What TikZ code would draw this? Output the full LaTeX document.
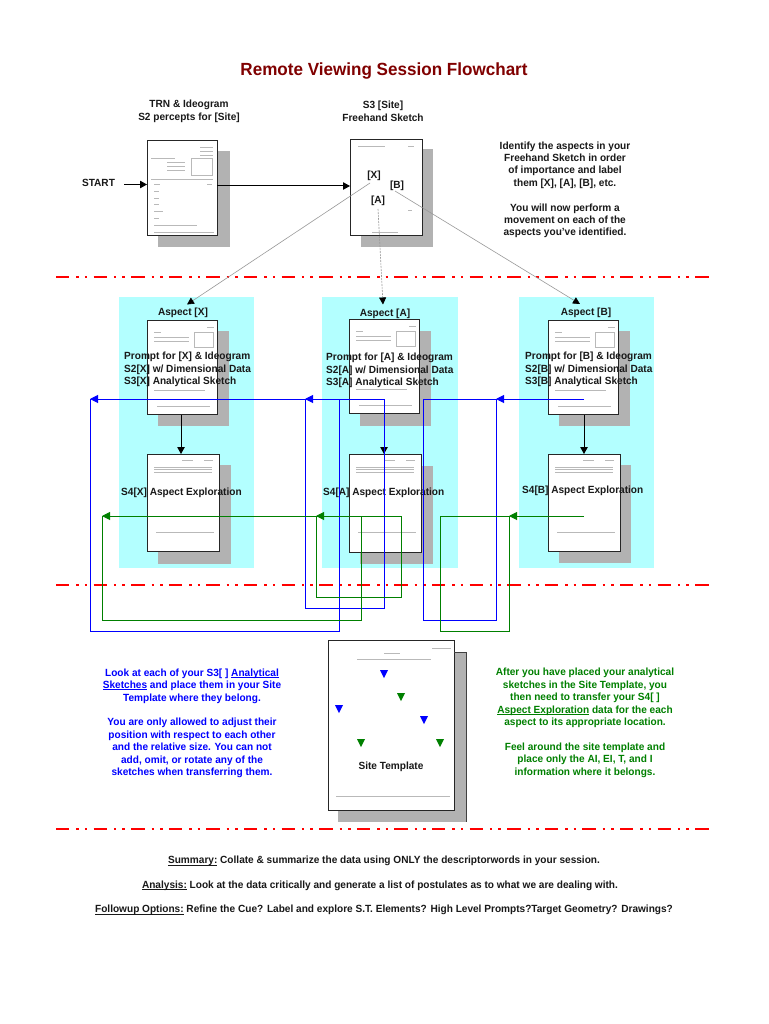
\documentclass[tikz,border=0pt]{standalone}
\usepackage{fontspec}
\setmainfont[FakeStretch=0.97]{Liberation Sans}
\usetikzlibrary{arrows.meta}
\definecolor{pageshadow}{RGB}{178,178,178}
\definecolor{panelcyan}{RGB}{179,255,255}
\definecolor{rvred}{RGB}{128,0,0}
\definecolor{rvgreen}{RGB}{0,128,0}
\definecolor{tinyink}{RGB}{185,185,185}
\tikzset{
  lbl/.style={font=\bfseries\fontsize{10.4}{12.6}\selectfont,text=black!90,inner sep=0pt,align=center,yshift=-1.8pt},
  lblL/.style={lbl,align=left,anchor=north west},
  tall/.style={font=\bfseries\fontsize{10.4}{12.4}\selectfont},
  panel/.style={fill=panelcyan,draw=none},
  shadowbox/.style={fill=pageshadow,draw=none},
  pagebox/.style={fill=white,draw=black!85,line width=1.3pt},
  flow/.style={draw=black,line width=1pt,-{Triangle[length=7pt,width=7.5pt]}},
  thin link/.style={draw=black!40,line width=.6pt,-{Triangle[length=7pt,width=7pt,color=black]}},
  blueloop/.style={draw=blue,line width=1pt},
  greenloop/.style={draw=rvgreen,line width=1pt},
  bluehead/.style={blueloop,-{Triangle[length=8pt,width=8pt]}},
  greenhead/.style={greenloop,-{Triangle[length=8pt,width=8pt]}},
  sepline/.style={draw=red,line width=1.6pt,dash pattern=on 13.3pt off 7pt on 2.5pt off 6pt on 2.5pt off 6.3pt},
  tinyline/.style={draw=tinyink,line width=.5pt},
  marker/.style={fill=#1,draw=none},
}
% page: #1 name, #2..#5 page x1,y1,x2,y2, #6..#9 shadow
\newcommand{\rvpage}[9]{%
  \fill[shadowbox] (#6,#7) rectangle (#8,#9);
  \node[pagebox,draw,inner sep=0pt,minimum width=#4pt-#2pt,minimum height=#5pt-#3pt,anchor=north west] (#1) at (#2,#3) {};
}
\newcommand{\blueTri}[2]{\fill[marker=blue] (#1-4,#2-4) -- (#1+4,#2-4) -- (#1,#2+4.2) -- cycle;}
\newcommand{\greenTri}[2]{\fill[marker=rvgreen] (#1-4,#2-4) -- (#1+4,#2-4) -- (#1,#2+4.2) -- cycle;}
\newcommand{\rvrules}[3]{\foreach \yy/\aa/\bb in {#3} {\draw[tinyline] (#1+\aa,#2+\yy) -- (#1+\bb,#2+\yy);}}
\newcommand{\rvul}[1]{\setbox0\hbox{#1}\rlap{\rule[-1.4pt]{\wd0}{.7pt}}\box0 }
\begin{document}
\begin{tikzpicture}[x=1pt,y=-1pt]
\useasboundingbox (0,0) rectangle (768,1024);
\fill[white] (0,0) rectangle (768,1024);

\node[font=\bfseries\fontsize{17.6}{20}\selectfont,text=rvred,inner sep=0pt] (title) at (384,71) {Remote Viewing Session Flowchart};

% panels
\fill[panel] (119,297) rectangle (254,568);
\fill[panel] (322,297) rectangle (458,568);
\fill[panel] (519,297) rectangle (654,568);

% pages
\rvpage{trn}{147}{140}{217}{235}{158}{151}{230}{247}
\rvpage{sk}{350}{139}{422}{235}{361}{149}{433}{247}
\rvpage{xa}{147}{320}{217}{414}{158}{331}{229}{426}
\rvpage{xb}{147}{454}{219}{551}{158}{465}{231}{564}
\rvpage{aa}{349}{319}{419}{413}{360}{331}{431}{426}
\rvpage{ab}{349}{454}{421}{552}{360}{466}{433}{564}
\rvpage{ba}{548}{320}{618}{414}{559}{331}{630}{426}
\rvpage{bb}{548}{454}{620}{551}{559}{465}{631}{563}
\rvpage{st}{328}{640}{454}{810}{338}{652}{466}{822}
\draw[black!75,line width=.8pt] (454,652) -- (466,652) -- (466,822);

% tiny print on the first page
\rvrules{147}{140}{7/53/66,11/53/66,15/53/66,18/4/28,22/20/38,26/20/38,30/20/38,39/4/66,44/7/13,44/60/65,51/7/12,58/7/12,64/7/12,71/7/16,78/7/12,85/7/50,92/7/67}
\draw[tinyline] (191,158) rectangle (212,175);
% tiny print on the sketch page
\rvrules{350}{139}{7/8/35,7/58/64,71/58/62,93/22/48}
% tiny print on the analysis pages
\foreach \px/\py in {147/320,349/319,548/320}{
  \rvrules{\px}{\py}{7/60/67,12/7/14,17/7/42,21/7/42,70/7/58,86/10/63}
  \draw[tinyline] (\px+47,\py+12) rectangle (\px+66,\py+27);
}
% tiny print on the exploration pages
\foreach \px/\py in {147/454,349/454,548/454}{
  \rvrules{\px}{\py}{6/35/46,6/57/66,13/7/65,15/7/65,18/7/65,78/9/67}
}
% tiny print on the site template
\rvrules{328}{640}{8/104/123,13/56/72,19/29/103,156/8/122}

% markers
\blueTri{384}{674}
\greenTri{401}{697}
\blueTri{339}{709}
\blueTri{424}{720}
\greenTri{361}{743}
\greenTri{440}{743}

% separators
\coordinate (s1a) at (56,277); \coordinate (s1b) at (710,277);
\coordinate (s2a) at (56,585); \coordinate (s2b) at (710,585);
\coordinate (s3a) at (56,829); \coordinate (s3b) at (710,829);
\draw[sepline] (s1a) -- (s1b);
\draw[sepline] (s2a) -- (s2b);
\draw[sepline] (s3a) -- (s3b);

% labels on the top row
\node[lbl] (l1) at (189,109.5) {TRN \& Ideogram\\S2 percepts for [Site]};
\node[lbl] (l2) at (383,109.5) {S3 [Site]\\Freehand Sketch};
\node[lbl] (start) at (98.5,181) {START};
\node[lbl] (mx) at (374,174) {[X]};
\node[lbl] (mb) at (397,184) {[B]};
\node[lbl] (ma) at (378,199.5) {[A]};
\node[lbl,tall] (identify) at (565,188) {Identify the aspects in your\\Freehand Sketch in order\\of importance and label\\them [X], [A], [B], etc.\\[12.4pt]You will now perform  a\\movement on each of the\\aspects you’ve identified.};

% aspect labels
\node[lbl] (hx) at (183,311) {Aspect [X]};
\node[lbl] (ha) at (385,312) {Aspect [A]};
\node[lbl] (hb) at (586,311) {Aspect [B]};
\node[lblL] (px) at (124,350) {Prompt for [X] \& Ideogram\\S2[X] w/ Dimensional Data\\S3[X] Analytical Sketch};
\node[lblL] (pa) at (326,351) {Prompt for [A] \& Ideogram\\S2[A] w/ Dimensional Data\\S3[A] Analytical Sketch};
\node[lblL] (pb) at (525,350) {Prompt for [B] \& Ideogram\\S2[B] w/ Dimensional Data\\S3[B] Analytical Sketch};
\node[lblL] (ex) at (121,485.5) {S4[X] Aspect Exploration};
\node[lblL] (ea) at (323,485.5) {S4[A] Aspect Exploration};
\node[lblL] (eb) at (522,483.5) {S4[B] Aspect Exploration};

% black connectors
\coordinate (startend) at (124,184.5);
\coordinate (trnin) at (147,184.5);
\coordinate (skin) at (350,186);
\coordinate (trnout) at (217,186);
\draw[flow] (startend) -- (trnin);
\draw[flow] (trnout) -- (skin);
\draw[flow] (xa.south -| 181,0) -- (xb.north -| 181,0);
\draw[flow] (aa.south -| 384,0) -- (ab.north -| 384,0);
\draw[flow] (ba.south -| 584,0) -- (bb.north -| 584,0);

% thin links
\coordinate (tx) at (370,183); \coordinate (ta) at (378,209); \coordinate (tb) at (395,191);
\coordinate (hxin) at (187,304.5); \coordinate (hain) at (383,304.5); \coordinate (hbin) at (580,304);
\draw[thin link] (tx) -- (hxin);
\draw[thin link,dash pattern=on 2pt off 1pt] (ta) -- (hain);
\draw[thin link] (tb) -- (hbin);

% blue loops
\coordinate (bxr) at (339,399); \coordinate (bxl) at (90,399);
\coordinate (bar) at (384,399); \coordinate (bal) at (305,399);
\coordinate (bbs) at (584,399); \coordinate (bbr) at (496,399); \coordinate (bbl) at (423,399);
\draw[blueloop] (bxl) -- (90,631) -- (339,631) -- (bxr);
\draw[bluehead] (bxr) -- (bxl);
\draw[blueloop] (bal) -- (305,608) -- (384,608) -- (bar);
\draw[bluehead] (bar) -- (bal);
\draw[blueloop] (bbr) -- (496,620) -- (423,620) -- (bbl) -- (bbr);
\draw[bluehead] (bbs) -- (bbr);

% green loops
\coordinate (gxr) at (361,516); \coordinate (gxl) at (102,516);
\coordinate (gar) at (401,516); \coordinate (gal) at (316,516);
\coordinate (gbs) at (584,516); \coordinate (gbr) at (509,516); \coordinate (gbl) at (440,516);
\draw[greenloop] (gxl) -- (102,620) -- (361,620) -- (gxr);
\draw[greenhead] (gxr) -- (gxl);
\draw[greenloop] (gal) -- (316,597) -- (401,597) -- (gar);
\draw[greenhead] (gar) -- (gal);
\draw[greenloop] (gbr) -- (509,631) -- (440,631) -- (gbl) -- (gbr);
\draw[greenhead] (gbs) -- (gbr);

% lower text
\node[lbl] (sitelabel) at (391,765) {Site Template};
\node[lbl,tall,text=blue] (bluetext) at (192,721.5) {Look at each of your S3[ ] \rvul{Analytical}\\\rvul{Sketches} and place them in your Site\\Template where they belong.\\[12.4pt]You are only allowed to adjust their\\position with respect to each other\\and the relative size. You can not\\add, omit, or rotate any of the\\sketches when transferring them.};
\node[lbl,tall,text=rvgreen] (greentext) at (585,721) {After you have placed your analytical\\sketches in the Site Template, you\\then need to transfer your S4[ ]\\\rvul{Aspect Exploration} data for the each\\aspect to its appropriate location.\\[12.4pt]Feel around the site template and\\place only the AI, EI, T, and I\\information where it belongs.};
\node[lbl] (summary) at (384,859.5) {\rvul{Summary:} Collate \& summarize the data using ONLY the descriptorwords in your session.};
\node[lbl] (analysis) at (380,884) {\rvul{Analysis:} Look at the data critically and generate a list of postulates as to what we are dealing with.};
\node[lbl] (followup) at (384,908.5) {\rvul{Followup Options:} Refine the Cue? Label and explore S.T. Elements? High Level Prompts?Target Geometry? Drawings?};
\end{tikzpicture}
\end{document}
